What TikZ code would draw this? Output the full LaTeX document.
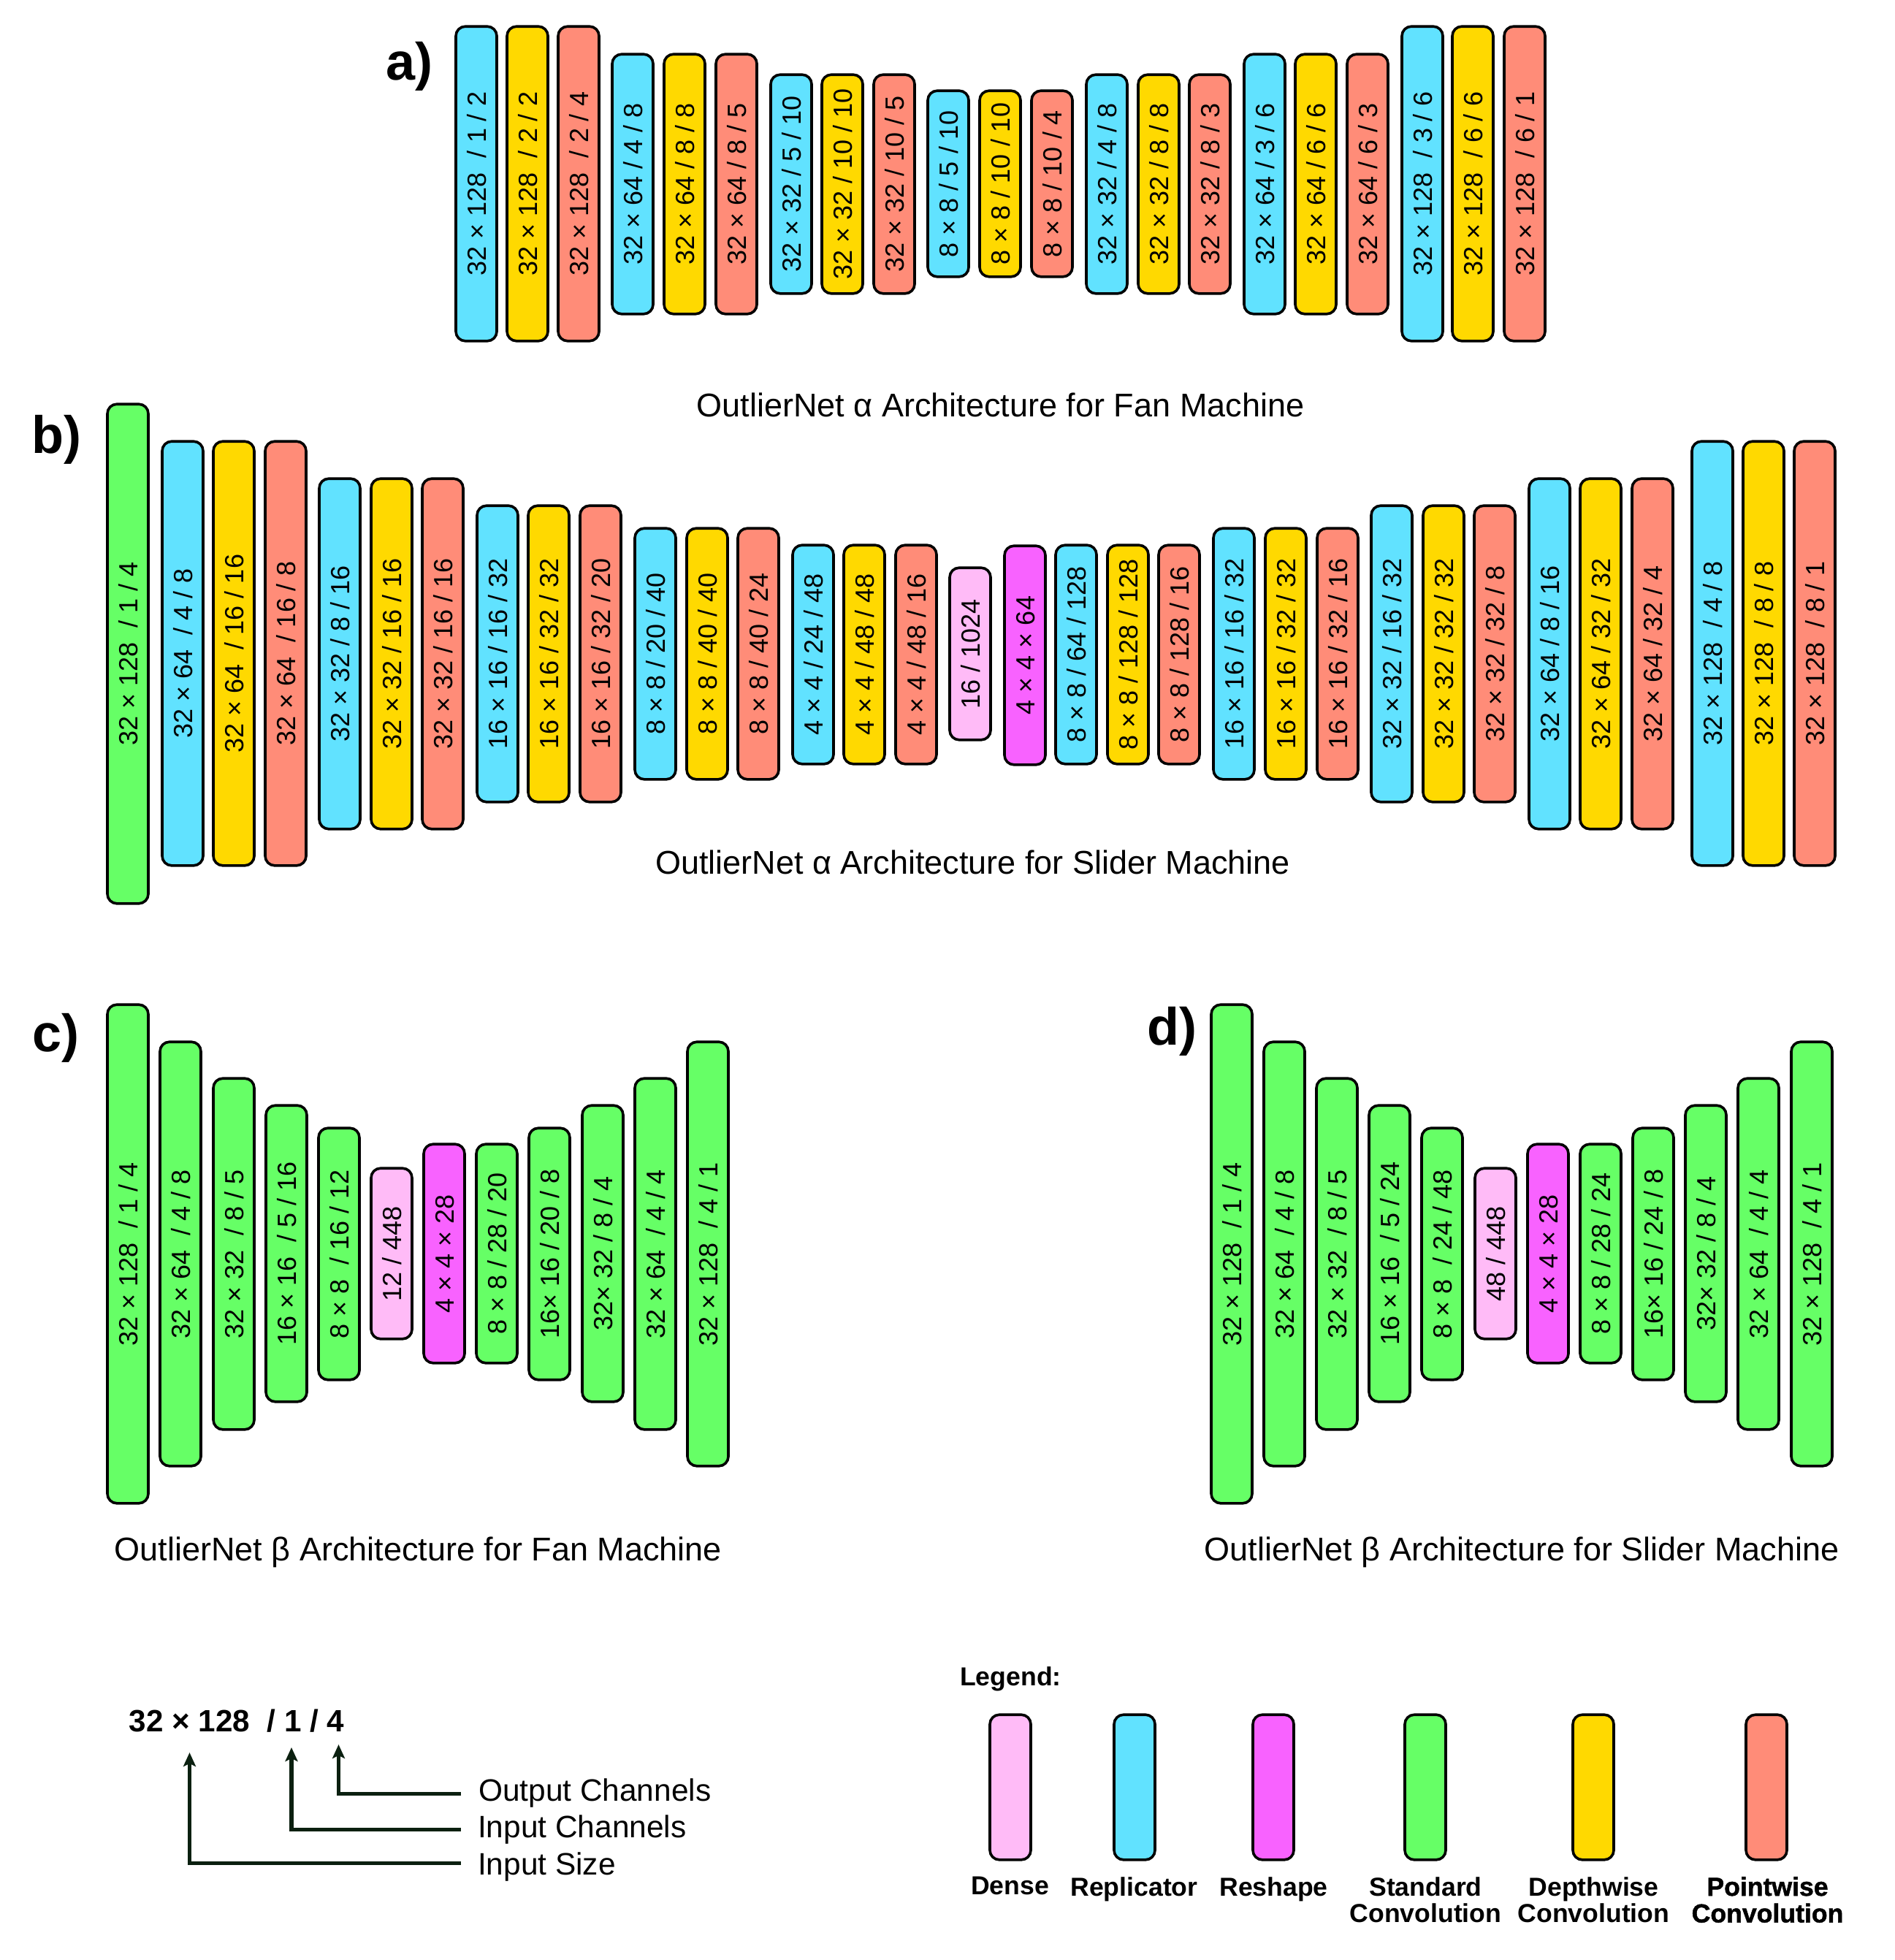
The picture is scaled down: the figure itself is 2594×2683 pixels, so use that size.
\documentclass[tikz,border=0pt]{standalone}
\usepackage{fontspec}
\setmainfont{Liberation Sans}
\newfontfamily\pwfont{Liberation Sans Bold}[FakeBold=1.4]
\usetikzlibrary{arrows.meta}
\definecolor{cyanb}{HTML}{61E2FF}
\definecolor{yelb}{HTML}{FFD900}
\definecolor{salb}{HTML}{FF8C78}
\definecolor{grnb}{HTML}{66FF66}
\definecolor{pnkb}{HTML}{FFBBF7}
\definecolor{magb}{HTML}{F862FF}
\definecolor{arrc}{HTML}{0B2010}
\tikzset{
  blk/.style={draw=black,line width=3.6pt,rounded corners=13pt,rotate=90,inner sep=0pt,
    minimum height=56pt,text height=26pt,text depth=0pt,text=black,
    font=\fontsize{36}{36}\selectfont},
  captxt/.style={anchor=base,inner sep=0pt,font=\fontsize{45}{50}\selectfont},
  panel/.style={anchor=base west,inner sep=0pt,font=\fontsize{72}{74}\selectfont\bfseries},
  keytxt/.style={anchor=base west,inner sep=0pt,font=\fontsize{42.4}{46}\selectfont},
  legtxt/.style={anchor=north,inner sep=0pt,align=center,font=\fontsize{35.6}{36.5}\selectfont\bfseries},
  arr/.style={draw=arrc,line width=5.2pt,-{Stealth[length=19pt,width=17pt,inset=4pt]},line join=miter},
}
\newcommand\Blk[6]{%
  \pgfmathsetmacro\blkX{#2+29}%
  \pgfmathsetmacro\blkY{(#3+#4)/2}%
  \pgfmathsetmacro\blkL{#4-#3-2.4}%
  \node[blk,fill=#5,minimum width=\blkL pt] (#1) at (\blkX,\blkY) {#6};}
\begin{document}
\begin{tikzpicture}[x=1pt,y=-1pt]
\useasboundingbox (0,0) rectangle (2594,2683);
% --- a ---
\node[panel] (pa) at (528,109) {a)};
\Blk{a1}{623}{35}{468}{cyanb}{32 × 128~ / 1 / 2}
\Blk{a2}{693}{35}{468}{yelb}{32 × 128~ / 2 / 2}
\Blk{a3}{763}{35}{468}{salb}{32 × 128~ / 2 / 4}
\Blk{a4}{837}{73}{431}{cyanb}{32 × 64 / 4 / 8}
\Blk{a5}{908}{73}{431}{yelb}{32 × 64 / 8 / 8}
\Blk{a6}{979}{73}{431}{salb}{32 × 64 / 8 / 5}
\Blk{a7}{1054}{101}{403}{cyanb}{32 × 32 / 5 / 10}
\Blk{a8}{1124}{101}{403}{yelb}{32 × 32 / 10 / 10}
\Blk{a9}{1195}{101}{403}{salb}{32 × 32 / 10 / 5}
\Blk{a10}{1269}{123}{380}{cyanb}{8 × 8 / 5 / 10}
\Blk{a11}{1340}{123}{380}{yelb}{8 × 8 / 10 / 10}
\Blk{a12}{1411}{123}{380}{salb}{8 × 8 / 10 / 4}
\Blk{a13}{1486}{101}{403}{cyanb}{32 × 32 / 4 / 8}
\Blk{a14}{1557}{101}{403}{yelb}{32 × 32 / 8 / 8}
\Blk{a15}{1627}{101}{403}{salb}{32 × 32 / 8 / 3}
\Blk{a16}{1702}{73}{431}{cyanb}{32 × 64 / 3 / 6}
\Blk{a17}{1772}{73}{431}{yelb}{32 × 64 / 6 / 6}
\Blk{a18}{1843}{73}{431}{salb}{32 × 64 / 6 / 3}
\Blk{a19}{1918}{35}{468}{cyanb}{32 × 128~ / 3 / 6}
\Blk{a20}{1987}{35}{468}{yelb}{32 × 128~ / 6 / 6}
\Blk{a21}{2058}{35}{468}{salb}{32 × 128~ / 6 / 1}
\node[captxt] (capa) at (1369.5,570) {OutlierNet α Architecture for Fan Machine};
% --- b ---
\node[panel] (pb) at (43,620) {b)};
\Blk{b1}{146}{552}{1238}{grnb}{32 × 128~ / 1 / 4}
\Blk{b2}{221}{603}{1186}{cyanb}{32 × 64~ / 4 / 8}
\Blk{b3}{291}{603}{1186}{yelb}{32 × 64~ / 16 / 16}
\Blk{b4}{362}{603}{1186}{salb}{32 × 64~ / 16 / 8}
\Blk{b5}{436}{654}{1136}{cyanb}{32 × 32 / 8 / 16}
\Blk{b6}{507}{654}{1136}{yelb}{32 × 32 / 16 / 16}
\Blk{b7}{577}{654}{1136}{salb}{32 × 32 / 16 / 16}
\Blk{b8}{652}{691}{1099}{cyanb}{16 × 16 / 16 / 32}
\Blk{b9}{722}{691}{1099}{yelb}{16 × 16 / 32 / 32}
\Blk{b10}{793}{691}{1099}{salb}{16 × 16 / 32 / 20}
\Blk{b11}{868}{722}{1068}{cyanb}{8 × 8 / 20 / 40}
\Blk{b12}{939}{722}{1068}{yelb}{8 × 8 / 40 / 40}
\Blk{b13}{1009}{722}{1068}{salb}{8 × 8 / 40 / 24}
\Blk{b14}{1084}{745}{1047}{cyanb}{4 × 4 / 24 / 48}
\Blk{b15}{1154}{745}{1047}{yelb}{4 × 4 / 48 / 48}
\Blk{b16}{1225}{745}{1047}{salb}{4 × 4 / 48 / 16}
\Blk{b17}{1299}{776}{1014}{pnkb}{16 / 1024}
\Blk{b18}{1374}{746}{1048}{magb}{4 × 4 × 64}
\Blk{b19}{1444}{745}{1047}{cyanb}{8 × 8 / 64 / 128}
\Blk{b20}{1515}{745}{1047}{yelb}{8 × 8 / 128 / 128}
\Blk{b21}{1585}{745}{1047}{salb}{8 × 8 / 128 / 16}
\Blk{b22}{1660}{722}{1068}{cyanb}{16 × 16 / 16 / 32}
\Blk{b23}{1731}{722}{1068}{yelb}{16 × 16 / 32 / 32}
\Blk{b24}{1802}{722}{1068}{salb}{16 × 16 / 32 / 16}
\Blk{b25}{1876}{691}{1099}{cyanb}{32 × 32 / 16 / 32}
\Blk{b26}{1947}{691}{1099}{yelb}{32 × 32 / 32 / 32}
\Blk{b27}{2017}{691}{1099}{salb}{32 × 32 / 32 / 8}
\Blk{b28}{2092}{654}{1136}{cyanb}{32 × 64 / 8 / 16}
\Blk{b29}{2162}{654}{1136}{yelb}{32 × 64 / 32 / 32}
\Blk{b30}{2233}{654}{1136}{salb}{32 × 64 / 32 / 4}
\Blk{b31}{2315}{603}{1186}{cyanb}{32 × 128~ / 4 / 8}
\Blk{b32}{2385}{603}{1186}{yelb}{32 × 128~ / 8 / 8}
\Blk{b33}{2455}{603}{1186}{salb}{32 × 128~ / 8 / 1}
\node[captxt] (capb) at (1331.5,1196) {OutlierNet α Architecture for Slider Machine};
% --- c ---
\node[panel] (pc) at (44,1439) {c)};
\Blk{c1}{146}{1374}{2059}{grnb}{32 × 128~ / 1 / 4}
\Blk{c2}{218}{1425}{2008}{grnb}{32 × 64~ / 4 / 8}
\Blk{c3}{291}{1475}{1958}{grnb}{32 × 32~ / 8 / 5}
\Blk{c4}{363}{1512}{1920}{grnb}{16 × 16~ / 5 / 16}
\Blk{c5}{435}{1543}{1890}{grnb}{8 × 8~ / 16 / 12}
\Blk{c6}{507}{1598}{1834}{pnkb}{12 / 448}
\Blk{c7}{579}{1565}{1867}{magb}{4 × 4 × 28}
\Blk{c8}{651}{1565}{1867}{grnb}{8 × 8 / 28 / 20}
\Blk{c9}{723}{1543}{1890}{grnb}{16× 16 / 20 / 8}
\Blk{c10}{796}{1512}{1920}{grnb}{32× 32 / 8 / 4}
\Blk{c11}{868}{1475}{1958}{grnb}{32 × 64~ / 4 / 4}
\Blk{c12}{940}{1425}{2008}{grnb}{32 × 128~ / 4 / 1}
\node[captxt] (capc) at (572.5,2136) {OutlierNet β Architecture for Fan Machine};
% --- d ---
\node[panel] (pd) at (1570.5,1430) {d)};
\Blk{d1}{1657}{1374}{2059}{grnb}{32 × 128~ / 1 / 4}
\Blk{d2}{1729}{1425}{2008}{grnb}{32 × 64~ / 4 / 8}
\Blk{d3}{1801}{1475}{1958}{grnb}{32 × 32~ / 8 / 5}
\Blk{d4}{1873}{1512}{1920}{grnb}{16 × 16~ / 5 / 24}
\Blk{d5}{1945}{1543}{1890}{grnb}{8 × 8~ / 24 / 48}
\Blk{d6}{2018}{1598}{1834}{pnkb}{48 / 448}
\Blk{d7}{2090}{1565}{1867}{magb}{4 × 4 × 28}
\Blk{d8}{2162}{1565}{1867}{grnb}{8 × 8 / 28 / 24}
\Blk{d9}{2234}{1543}{1890}{grnb}{16× 16 / 24 / 8}
\Blk{d10}{2306}{1512}{1920}{grnb}{32× 32 / 8 / 4}
\Blk{d11}{2378}{1475}{1958}{grnb}{32 × 64~ / 4 / 4}
\Blk{d12}{2451}{1425}{2008}{grnb}{32 × 128~ / 4 / 1}
\node[captxt] (capd) at (2083,2136) {OutlierNet β Architecture for Slider Machine};
% --- key ---
\node[anchor=base west,inner sep=0pt,font=\fontsize{42.2}{46}\selectfont\bfseries] (ex) at (176.5,2370) {32 × 128~ / 1 / 4};
\node[keytxt] (ko) at (655,2465) {Output Channels};
\node[keytxt] (ki) at (654,2515) {Input Channels};
\node[keytxt] (ks) at (654,2566) {Input Size};
\coordinate (oS) at (631,2455.5); \coordinate (oT) at (463.5,2388);
\coordinate (iS) at (631,2504.5); \coordinate (iT) at (399,2392);
\coordinate (sS) at (631,2550.5); \coordinate (sT) at (259.5,2399);
\draw[arr] (oS) -| (oT);
\draw[arr] (iS) -| (iT);
\draw[arr] (sS) -| (sT);
% --- legend ---
\node[anchor=base west,inner sep=0pt,font=\fontsize{35.6}{36}\selectfont\bfseries] (leg) at (1314,2307) {Legend:};
\Blk{l1}{1354}{2346}{2547}{pnkb}{}
\Blk{l2}{1524}{2346}{2547}{cyanb}{}
\Blk{l3}{1714}{2346}{2547}{magb}{}
\Blk{l4}{1922}{2346}{2547}{grnb}{}
\Blk{l5}{2152}{2346}{2547}{yelb}{}
\Blk{l6}{2389}{2346}{2547}{salb}{}
\node[legtxt] (t1) at (1382.5,2569) {Dense};
\node[legtxt] (t2) at (1552.5,2569) {Replicator};
\node[legtxt] (t3) at (1743.5,2569) {Reshape};
\node[legtxt] (t4) at (1951.5,2569) {Standard\\Convolution};
\node[legtxt] (t5) at (2181.5,2569) {Depthwise\\Convolution};
\node[legtxt] (t6) at (2419.5,2569) {\pwfont Pointwise\\\pwfont Convolution};
\end{tikzpicture}
\end{document}
